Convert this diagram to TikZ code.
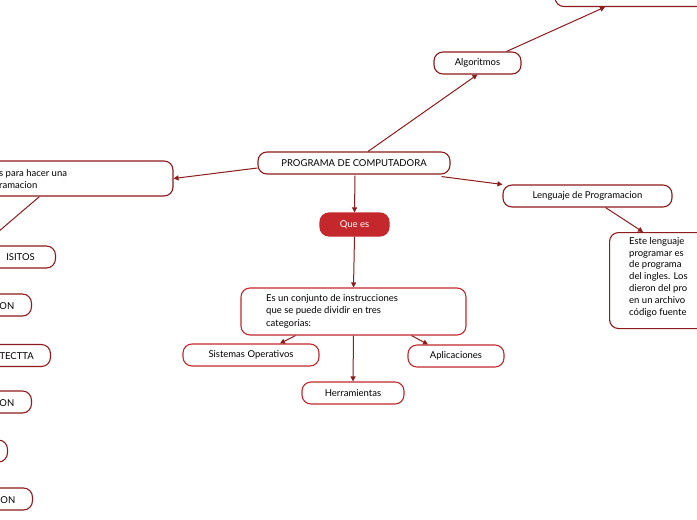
\documentclass[tikz,border=0pt]{standalone}
\usepackage{fontspec}
\setmainfont{Lato}
\usetikzlibrary{arrows.meta,calc}
\definecolor{dr}{HTML}{8E1B1B}
\definecolor{br}{HTML}{C4282C}
\begin{document}
\begin{tikzpicture}[x=1pt,y=-1pt,
  box/.style={draw=dr,line width=1.1pt,rounded corners=9pt,fill=white,font=\fontsize{9.5}{11}\selectfont,inner sep=0pt},
  rbox/.style={box,draw=br},
  txt/.style={inner sep=0pt,align=left,font=\fontsize{9.5}{12.5}\selectfont},
  con/.style={draw=dr,line width=1pt,-{Triangle[length=5pt,width=5pt]}},
  pl/.style={draw=dr,line width=1pt}]
\clip (0,0) rectangle (697,520);
\fill[white] (0,0) rectangle (697,520);
\node[box,minimum width=160pt,minimum height=27pt] (top) at (635,-7) {};
\node[box,minimum width=87pt,minimum height=22pt] (alg) at (477.5,63) {Algoritmos};
\node[box,minimum width=192pt,minimum height=22pt] (prog) at (354,163) {PROGRAMA DE COMPUTADORA};
\node[box,minimum width=233pt,minimum height=35pt] (req) at (56.5,178.5) {};
\node[txt,anchor=west] (reqt) at (-1,179) {s para hacer una\\ramacion};
\node[box,minimum width=169pt,minimum height=22pt] (len) at (587.5,196) {Lenguaje de Programacion};
\node[box,minimum width=101pt,minimum height=96pt,anchor=north west] (este) at (609,232) {};
\node[txt,anchor=north west,font=\fontsize{9.5}{11.8}\selectfont] (estet) at (629,237) {Este lenguaje\\programar es\\de programa\\del ingles. Los\\dieron del pro\\en un archivo\\código fuente};
\node[box,draw=br,fill=br,text=white,minimum width=69pt,minimum height=23pt] (que) at (354.5,224.5) {Que es};
\node[rbox,minimum width=225pt,minimum height=47pt] (es) at (353.5,311.5) {};
\node[txt,anchor=west] (est) at (266,311) {Es un conjunto de instrucciones\\que se puede dividir en tres\\categorias:};
\node[rbox,minimum width=136pt,minimum height=22pt] (so) at (251,355) {Sistemas Operativos};
\node[rbox,minimum width=96pt,minimum height=22pt] (ap) at (456,356) {Aplicaciones};
\node[rbox,minimum width=102pt,minimum height=22pt] (he) at (353,393) {Herramientas};
\node[box,minimum width=100pt,minimum height=22pt,anchor=east] (l1) at (56,257) {};
\node[txt,anchor=east] at (35,257.5) {ISITOS};
\node[box,minimum width=100pt,minimum height=22pt,anchor=east] (l2) at (32,305) {};
\node[txt,anchor=east] at (14.5,306) {ON};
\node[box,minimum width=100pt,minimum height=22pt,anchor=east] (l3) at (51,355.5) {};
\node[txt,anchor=east] at (34,356) {TECTTA};
\node[box,minimum width=100pt,minimum height=22pt,anchor=east] (l4) at (32,402) {};
\node[txt,anchor=east] at (14.5,403) {ON};
\node[box,minimum width=100pt,minimum height=22pt,anchor=east] (l5) at (8,451) {};
\node[box,minimum width=100pt,minimum height=22pt,anchor=east] (l6) at (33,499) {};
\node[txt,anchor=east] at (15.5,500) {ON};
\coordinate (off) at (-2,232);
\draw[con] ($(prog.north)+(14,0)$) -- (alg.south);
\draw[con] ($(alg.north east)+(-15,0)$) -- ($(top.south)+(-30,0)$);
\draw[con] ($(prog.west)+(0,5)$) -- (req.east);
\draw[con] ($(prog.south east)+(-9,2)$) -- (len.north west);
\draw[con] ($(prog.south)+(1,1)$) -- (que.north);
\draw[con] (que.south) -- (es.north);
\draw[con] ($(len.south)+(18,0)$) -- ($(este.north)+(-17,0)$);
\draw[pl] ($(req.south)+(-17,0)$) -- (off);
\draw[con] ($(es.south)+(-58,0)$) -- ($(so.north)+(29,0)$);
\draw[con] (es.south) -- (he.north);
\draw[con] ($(es.south)+(58,0)$) -- ($(ap.north)+(-28,0)$);
\end{tikzpicture}
\end{document}
